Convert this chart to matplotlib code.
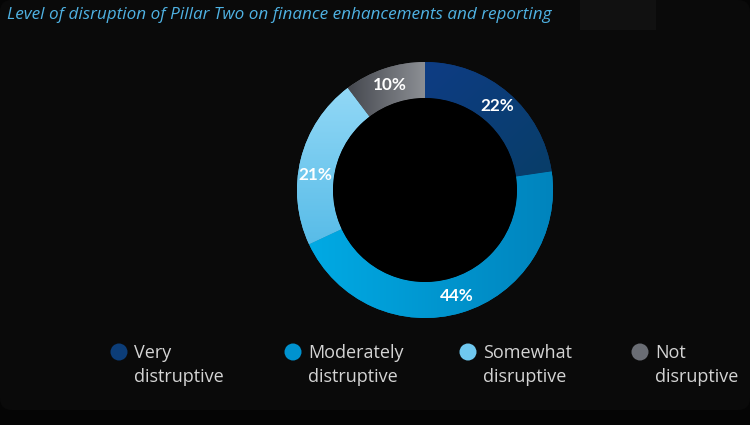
import matplotlib
matplotlib.use("Agg")
import matplotlib.pyplot as plt
import numpy as np
from matplotlib.patches import FancyBboxPatch, Rectangle
from matplotlib.colors import to_rgb

categories = ["Very\ndistruptive", "Moderately\ndistruptive", "Somewhat\ndisruptive", "Not\ndisruptive"]
values = [22, 44, 21, 10]
labels = ["22%", "44%", "21%", "10%"]
colors = ["#0c3d78", "#0092cf", "#6fc8ef", "#6a6d74"]
grad_start = ["#0e3c84", "#00aae4", "#92d8f6", "#45484f"]
grad_end = ["#083e68", "#0084bd", "#58bce8", "#8d9095"]
grad_dir = ["diag", "h", "v", "h"]
title = "Level of disruption of Pillar Two on finance enhancements and reporting"

W, H = 750, 425
fig = plt.figure(figsize=(7.5, 4.25), dpi=100, facecolor="#050505")
ax = fig.add_axes([0, 0, 1, 1])

ax.add_patch(FancyBboxPatch((0, 15), W, H - 15, boxstyle="round,pad=0,rounding_size=12",
                            fc="#0a0a0a", ec="none", zorder=0))
ax.add_patch(Rectangle((580, H - 30), 76, 30, fc="#111111", ec="none", zorder=0))

cx, cy, R = 425, H - 190, 128
wedges, _ = ax.pie(values, colors=colors, startangle=90, counterclock=False,
                   center=(cx, cy), radius=R, wedgeprops=dict(width=36, edgecolor="none"),
                   frame=True)
ax.set_xlim(0, W)
ax.set_ylim(0, H)
ax.set_aspect("equal")
ax.axis("off")

# gradient fills clipped to wedges
n = 200
u = np.linspace(0, 1, n)
U, V = np.meshgrid(u, u)
for w, c0, c1, d in zip(wedges, grad_start, grad_end, grad_dir):
    if d == "h":
        t = U
    elif d == "v":
        t = 1 - V
    else:
        t = (U + (1 - V)) / 2
    a = np.array(to_rgb(c0))
    b = np.array(to_rgb(c1))
    img = a[None, None, :] * (1 - t[..., None]) + b[None, None, :] * t[..., None]
    bb = w.get_path().get_extents(w.get_patch_transform())
    im = ax.imshow(img, extent=[bb.x0, bb.x1, bb.y0, bb.y1], origin="lower",
                   zorder=2, interpolation="bilinear", aspect="auto")
    im.set_clip_path(w)
ax.set_xlim(0, W)
ax.set_ylim(0, H)

ax.add_patch(plt.Circle((cx, cy), R - 36, fc="#000000", ec="none", zorder=3))

# small angular nudges of label placement (degrees)
nudges = [0, 0, 6, 0]
total = sum(values)
start = 90.0
for v, lab, nd in zip(values, labels, nudges):
    ang = start - v / total * 360 / 2 + nd
    start -= v / total * 360
    r = R - 17
    x = cx + r * np.cos(np.radians(ang))
    y = cy + r * np.sin(np.radians(ang))
    ax.text(x, y, lab, ha="center", va="center", color="white", fontsize=12.3,
            fontweight="bold", family=["Lato", "DejaVu Sans"], zorder=5)

ax.text(7, H - 15, title, ha="left", va="center", color="#4fb2e3", fontsize=12.3,
        style="italic", family=["Open Sans", "DejaVu Sans"])

xs = [119, 293, 468, 640]
for x, c, cat in zip(xs, colors, categories):
    ax.scatter([x], [H - 352], s=150, color=c, zorder=5, edgecolors="none")
    ax.text(x + 15, H - 365, cat, ha="left", va="center", color="#d4d4d4", fontsize=13,
            family=["Open Sans", "DejaVu Sans"], linespacing=1.45)

fig.savefig("out.png", dpi=100, facecolor=fig.get_facecolor())
